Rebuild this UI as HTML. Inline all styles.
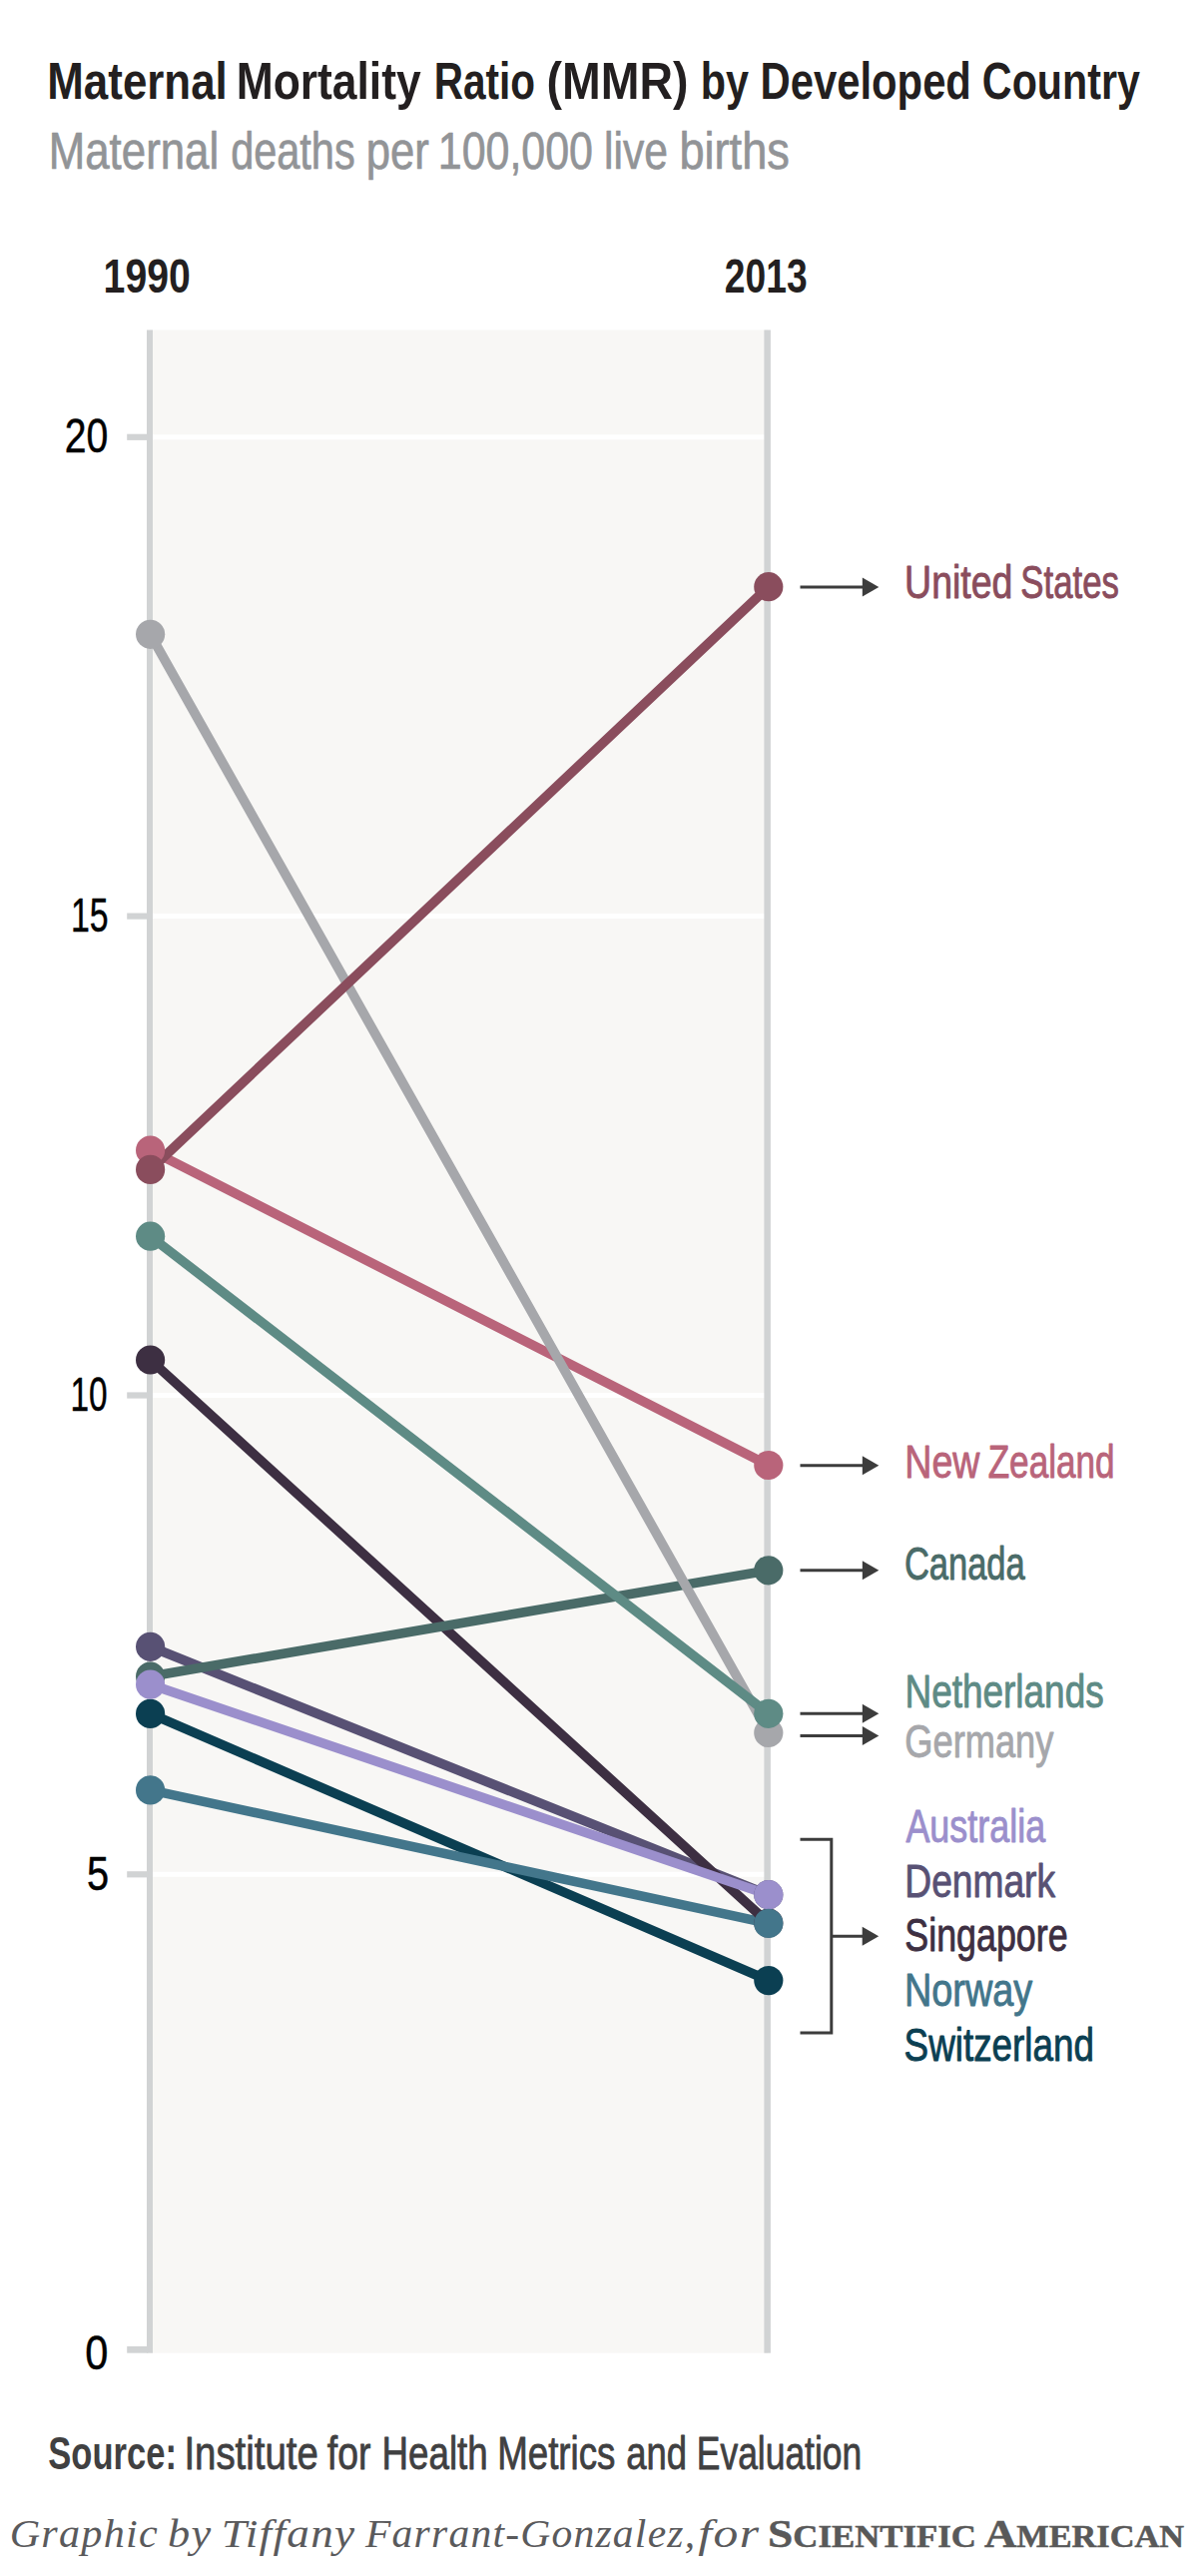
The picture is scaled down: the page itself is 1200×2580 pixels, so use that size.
<!DOCTYPE html>
<html lang="en">
<head>
<meta charset="utf-8">
<title>Maternal Mortality Ratio (MMR) by Developed Country</title>
<style>
html,body{margin:0;padding:0;background:#fff;}
body{width:1200px;height:2580px;overflow:hidden;}
svg{display:block;}
text{font-family:"Liberation Sans",sans-serif;}
.ser{font-family:"Liberation Serif",serif;}
</style>
</head>
<body>
<svg width="1200" height="2580" viewBox="0 0 1200 2580">
<rect x="0" y="0" width="1200" height="2580" fill="#ffffff"/>

<!-- plot area -->
<rect x="150" y="330.5" width="619" height="2026.2" fill="#f8f7f5"/>
<rect x="153" y="435.3" width="613" height="5" fill="#ffffff"/>
<rect x="153" y="915.1" width="613" height="5" fill="#ffffff"/>
<rect x="153" y="1395.0" width="613" height="5" fill="#ffffff"/>
<rect x="153" y="1874.8" width="613" height="5" fill="#ffffff"/>
<rect x="147" y="330.5" width="6" height="2026.2" fill="#d1d3d4"/>
<rect x="765.4" y="330.5" width="6.5" height="2026.2" fill="#d1d3d4"/>
<rect x="127.2" y="434.7" width="21" height="6.2" fill="#d1d3d4"/>
<rect x="127.2" y="914.5" width="21" height="6.2" fill="#d1d3d4"/>
<rect x="127.2" y="1394.4" width="21" height="6.2" fill="#d1d3d4"/>
<rect x="127.2" y="1874.2" width="21" height="6.2" fill="#d1d3d4"/>
<rect x="127.2" y="2350" width="21" height="6.7" fill="#d1d3d4"/>
<!-- series -->
<g fill="none" stroke-width="9.6" stroke-linecap="round">
<line x1="150.6" y1="1716.4" x2="769.8" y2="1983.6" stroke="#0b3f52"/>
<line x1="150.6" y1="1792.9" x2="769.8" y2="1926.4" stroke="#43768b"/>
<line x1="150.6" y1="1649.3" x2="769.8" y2="1897.7" stroke="#585174"/>
<line x1="150.6" y1="1362.0" x2="769.8" y2="1926.0" stroke="#3d2f42"/>
<line x1="150.6" y1="1687.1" x2="769.8" y2="1897.7" stroke="#9b8fcc"/>
<line x1="150.6" y1="1679.0" x2="769.8" y2="1572.8" stroke="#4a6b68"/>
<line x1="150.6" y1="1152.0" x2="769.8" y2="1467.5" stroke="#b9647a"/>
<line x1="150.6" y1="635.3" x2="769.8" y2="1735.5" stroke="#a6a7ab"/>
<line x1="150.6" y1="1238.2" x2="769.8" y2="1716.3" stroke="#5e8b85"/>
<line x1="150.6" y1="1171.4" x2="769.8" y2="587.7" stroke="#8a4d5d"/>
</g>
<g>
<circle cx="150.6" cy="1649.3" r="14.6" fill="#585174"/><circle cx="769.8" cy="1897.7" r="14.6" fill="#585174"/>
<circle cx="150.6" cy="1362.0" r="14.6" fill="#3d2f42"/><circle cx="769.8" cy="1926.0" r="14.6" fill="#3d2f42"/>
<circle cx="150.6" cy="1679.0" r="14.6" fill="#4a6b68"/><circle cx="769.8" cy="1572.8" r="14.6" fill="#4a6b68"/>
<circle cx="150.6" cy="635.3" r="14.6" fill="#a6a7ab"/><circle cx="769.8" cy="1735.5" r="14.6" fill="#a6a7ab"/>
<circle cx="150.6" cy="1716.4" r="14.6" fill="#0b3f52"/><circle cx="769.8" cy="1983.6" r="14.6" fill="#0b3f52"/>
<circle cx="150.6" cy="1152.0" r="14.6" fill="#b9647a"/><circle cx="769.8" cy="1467.5" r="14.6" fill="#b9647a"/>
<circle cx="150.6" cy="1238.2" r="14.6" fill="#5e8b85"/><circle cx="769.8" cy="1716.3" r="14.6" fill="#5e8b85"/>
<circle cx="150.6" cy="1171.4" r="14.6" fill="#8a4d5d"/><circle cx="769.8" cy="587.7" r="14.6" fill="#8a4d5d"/>
<circle cx="150.6" cy="1687.1" r="14.6" fill="#9b8fcc"/><circle cx="769.8" cy="1897.7" r="14.6" fill="#9b8fcc"/>
<circle cx="150.6" cy="1792.9" r="14.6" fill="#43768b"/><circle cx="769.8" cy="1926.4" r="14.6" fill="#43768b"/>
</g>
<!-- text -->
<text y="99.3"><tspan x="47.33" font-size="52" fill="#231f20" font-weight="bold" textLength="180.41" lengthAdjust="spacingAndGlyphs">Maternal</tspan> <tspan x="236.65" font-size="52" fill="#231f20" font-weight="bold" textLength="185.06" lengthAdjust="spacingAndGlyphs">Mortality</tspan> <tspan x="434.81" font-size="52" fill="#231f20" font-weight="bold" textLength="101.32" lengthAdjust="spacingAndGlyphs">Ratio</tspan> <tspan x="547.58" font-size="52" fill="#231f20" font-weight="bold" textLength="141.97" lengthAdjust="spacingAndGlyphs">(MMR)</tspan> <tspan x="701.65" font-size="52" fill="#231f20" font-weight="bold" textLength="48.25" lengthAdjust="spacingAndGlyphs">by</tspan> <tspan x="761.58" font-size="52" fill="#231f20" font-weight="bold" textLength="211.32" lengthAdjust="spacingAndGlyphs">Developed</tspan> <tspan x="983.86" font-size="52" fill="#231f20" font-weight="bold" textLength="158.13" lengthAdjust="spacingAndGlyphs">Country</tspan></text>
<text y="168.6"><tspan x="48.80" font-size="51" fill="#929497" stroke="#929497" stroke-width="0.7" stroke-linejoin="round" textLength="170.36" lengthAdjust="spacingAndGlyphs">Maternal</tspan> <tspan x="231.15" font-size="51" fill="#929497" stroke="#929497" stroke-width="0.7" stroke-linejoin="round" textLength="124.52" lengthAdjust="spacingAndGlyphs">deaths</tspan> <tspan x="366.67" font-size="51" fill="#929497" stroke="#929497" stroke-width="0.7" stroke-linejoin="round" textLength="63.10" lengthAdjust="spacingAndGlyphs">per</tspan> <tspan x="438.86" font-size="51" fill="#929497" stroke="#929497" stroke-width="0.7" stroke-linejoin="round" textLength="155.11" lengthAdjust="spacingAndGlyphs">100,000</tspan> <tspan x="604.94" font-size="51" fill="#929497" stroke="#929497" stroke-width="0.7" stroke-linejoin="round" textLength="63.98" lengthAdjust="spacingAndGlyphs">live</tspan> <tspan x="680.43" font-size="51" fill="#929497" stroke="#929497" stroke-width="0.7" stroke-linejoin="round" textLength="110.41" lengthAdjust="spacingAndGlyphs">births</tspan></text>
<text x="103.59" y="292.5" font-size="48.5" fill="#231f20" font-weight="bold" textLength="87.19" lengthAdjust="spacingAndGlyphs">1990</text>
<text x="725.87" y="292.5" font-size="48.5" fill="#231f20" font-weight="bold" textLength="82.73" lengthAdjust="spacingAndGlyphs">2013</text>
<text x="64.71" y="453.2" font-size="49" fill="#000000" stroke="#000000" stroke-width="0.5" stroke-linejoin="round" textLength="43.57" lengthAdjust="spacingAndGlyphs">20</text>
<text x="71.04" y="933.2" font-size="49" fill="#000000" stroke="#000000" stroke-width="0.5" stroke-linejoin="round" textLength="37.62" lengthAdjust="spacingAndGlyphs">15</text>
<text x="70.57" y="1413.4" font-size="49" fill="#000000" stroke="#000000" stroke-width="0.5" stroke-linejoin="round" textLength="37.10" lengthAdjust="spacingAndGlyphs">10</text>
<text x="86.88" y="1892.8" font-size="49" fill="#000000" stroke="#000000" stroke-width="0.5" stroke-linejoin="round" textLength="22.09" lengthAdjust="spacingAndGlyphs">5</text>
<text x="85.19" y="2372.8" font-size="49" fill="#000000" stroke="#000000" stroke-width="0.5" stroke-linejoin="round" textLength="23.09" lengthAdjust="spacingAndGlyphs">0</text>
<text y="598.8"><tspan x="906.12" font-size="46" fill="#8a4d5d" stroke="#8a4d5d" stroke-width="0.9" stroke-linejoin="round" textLength="108.34" lengthAdjust="spacingAndGlyphs">United</tspan> <tspan x="1022.32" font-size="46" fill="#8a4d5d" stroke="#8a4d5d" stroke-width="0.9" stroke-linejoin="round" textLength="98.56" lengthAdjust="spacingAndGlyphs">States</tspan></text>
<text y="1479.5"><tspan x="906.33" font-size="46" fill="#b9647a" stroke="#b9647a" stroke-width="0.9" stroke-linejoin="round" textLength="75.13" lengthAdjust="spacingAndGlyphs">New</tspan> <tspan x="989.63" font-size="46" fill="#b9647a" stroke="#b9647a" stroke-width="0.9" stroke-linejoin="round" textLength="126.96" lengthAdjust="spacingAndGlyphs">Zealand</tspan></text>
<text x="905.94" y="1581.7" font-size="46" fill="#4a6b68" stroke="#4a6b68" stroke-width="0.9" stroke-linejoin="round" textLength="120.78" lengthAdjust="spacingAndGlyphs">Canada</text>
<text x="906.57" y="1710.1" font-size="46" fill="#5e8b85" stroke="#5e8b85" stroke-width="0.9" stroke-linejoin="round" textLength="199.06" lengthAdjust="spacingAndGlyphs">Netherlands</text>
<text x="906.36" y="1760.2" font-size="46" fill="#a6a7ab" stroke="#a6a7ab" stroke-width="0.9" stroke-linejoin="round" textLength="148.90" lengthAdjust="spacingAndGlyphs">Germany</text>
<text x="907.43" y="1845" font-size="46" fill="#9b8fcc" stroke="#9b8fcc" stroke-width="0.9" stroke-linejoin="round" textLength="139.70" lengthAdjust="spacingAndGlyphs">Australia</text>
<text x="906.30" y="1899.6" font-size="46" fill="#585174" stroke="#585174" stroke-width="0.9" stroke-linejoin="round" textLength="150.71" lengthAdjust="spacingAndGlyphs">Denmark</text>
<text x="906.31" y="1954.2" font-size="46" fill="#3d2f42" stroke="#3d2f42" stroke-width="0.9" stroke-linejoin="round" textLength="163.30" lengthAdjust="spacingAndGlyphs">Singapore</text>
<text x="906.06" y="2008.9" font-size="46" fill="#43768b" stroke="#43768b" stroke-width="0.9" stroke-linejoin="round" textLength="128.15" lengthAdjust="spacingAndGlyphs">Norway</text>
<text x="905.56" y="2063.8" font-size="46" fill="#0b3f52" stroke="#0b3f52" stroke-width="0.9" stroke-linejoin="round" textLength="190.47" lengthAdjust="spacingAndGlyphs">Switzerland</text>
<text y="2473.3"><tspan x="48.30" font-size="45.5" fill="#404041" font-weight="bold" textLength="128.61" lengthAdjust="spacingAndGlyphs">Source:</tspan> <tspan x="184.47" font-size="45.5" fill="#404041" stroke="#404041" stroke-width="0.8" stroke-linejoin="round" textLength="134.27" lengthAdjust="spacingAndGlyphs">Institute</tspan> <tspan x="327.84" font-size="45.5" fill="#404041" stroke="#404041" stroke-width="0.8" stroke-linejoin="round" textLength="43.58" lengthAdjust="spacingAndGlyphs">for</tspan> <tspan x="382.62" font-size="45.5" fill="#404041" stroke="#404041" stroke-width="0.8" stroke-linejoin="round" textLength="106.04" lengthAdjust="spacingAndGlyphs">Health</tspan> <tspan x="498.16" font-size="45.5" fill="#404041" stroke="#404041" stroke-width="0.8" stroke-linejoin="round" textLength="118.33" lengthAdjust="spacingAndGlyphs">Metrics</tspan> <tspan x="627.18" font-size="45.5" fill="#404041" stroke="#404041" stroke-width="0.8" stroke-linejoin="round" textLength="60.85" lengthAdjust="spacingAndGlyphs">and</tspan> <tspan x="697.82" font-size="45.5" fill="#404041" stroke="#404041" stroke-width="0.8" stroke-linejoin="round" textLength="165.34" lengthAdjust="spacingAndGlyphs">Evaluation</tspan></text>
<text y="2551"><tspan x="9.68" font-size="41" fill="#5a5a5c" class="ser" font-style="italic" letter-spacing="1.2" textLength="149.23" lengthAdjust="spacingAndGlyphs">Graphic</tspan> <tspan x="168.02" font-size="41" fill="#5a5a5c" class="ser" font-style="italic" letter-spacing="1.2" textLength="44.44" lengthAdjust="spacingAndGlyphs">by</tspan> <tspan x="221.72" font-size="41" fill="#5a5a5c" class="ser" font-style="italic" letter-spacing="1.2" textLength="134.68" lengthAdjust="spacingAndGlyphs">Tiffany</tspan> <tspan x="366.00" font-size="41" fill="#5a5a5c" class="ser" font-style="italic" letter-spacing="1.2" textLength="331.32" lengthAdjust="spacingAndGlyphs">Farrant-Gonzalez,</tspan> <tspan x="699.35" font-size="41" fill="#5a5a5c" class="ser" font-style="italic" letter-spacing="1.2" textLength="62.25" lengthAdjust="spacingAndGlyphs">for</tspan></text>
<!-- arrows -->
<line x1="801.5" y1="588.1" x2="870.3" y2="588.1" stroke="#3c3c3c" stroke-width="3"/>
<polygon points="863.8,578.6 880.3,588.1 863.8,597.6" fill="#3c3c3c"/>
<line x1="801.5" y1="1467.7" x2="870.3" y2="1467.7" stroke="#3c3c3c" stroke-width="3"/>
<polygon points="863.8,1458.2 880.3,1467.7 863.8,1477.2" fill="#3c3c3c"/>
<line x1="801.5" y1="1572.8" x2="870.3" y2="1572.8" stroke="#3c3c3c" stroke-width="3"/>
<polygon points="863.8,1563.3 880.3,1572.8 863.8,1582.3" fill="#3c3c3c"/>
<line x1="801.5" y1="1716.2" x2="870.3" y2="1716.2" stroke="#3c3c3c" stroke-width="3"/>
<polygon points="863.8,1706.7 880.3,1716.2 863.8,1725.7" fill="#3c3c3c"/>
<line x1="801.5" y1="1738.5" x2="870.3" y2="1738.5" stroke="#3c3c3c" stroke-width="3"/>
<polygon points="863.8,1729.0 880.3,1738.5 863.8,1748.0" fill="#3c3c3c"/>
<polyline points="801.5,1842.3 832.8,1842.3 832.8,2036.1 801.5,2036.1" fill="none" stroke="#3c3c3c" stroke-width="3"/>
<line x1="832.8" y1="1939.2" x2="870.2" y2="1939.2" stroke="#3c3c3c" stroke-width="3"/>
<polygon points="863.7,1929.7 880.2,1939.2 863.7,1948.7" fill="#3c3c3c"/>
<!-- credit -->
<text x="769" y="2551" fill="#595959" stroke="#595959" stroke-width="0.5" class="ser" font-weight="bold" textLength="209" lengthAdjust="spacingAndGlyphs"><tspan font-size="40.5">S</tspan><tspan font-size="31">CIENTIFIC</tspan></text>
<text x="986" y="2551" fill="#595959" stroke="#595959" stroke-width="0.5" class="ser" font-weight="bold" textLength="200" lengthAdjust="spacingAndGlyphs"><tspan font-size="40.5">A</tspan><tspan font-size="31">MERICAN</tspan></text>
</svg>
</body>
</html>
